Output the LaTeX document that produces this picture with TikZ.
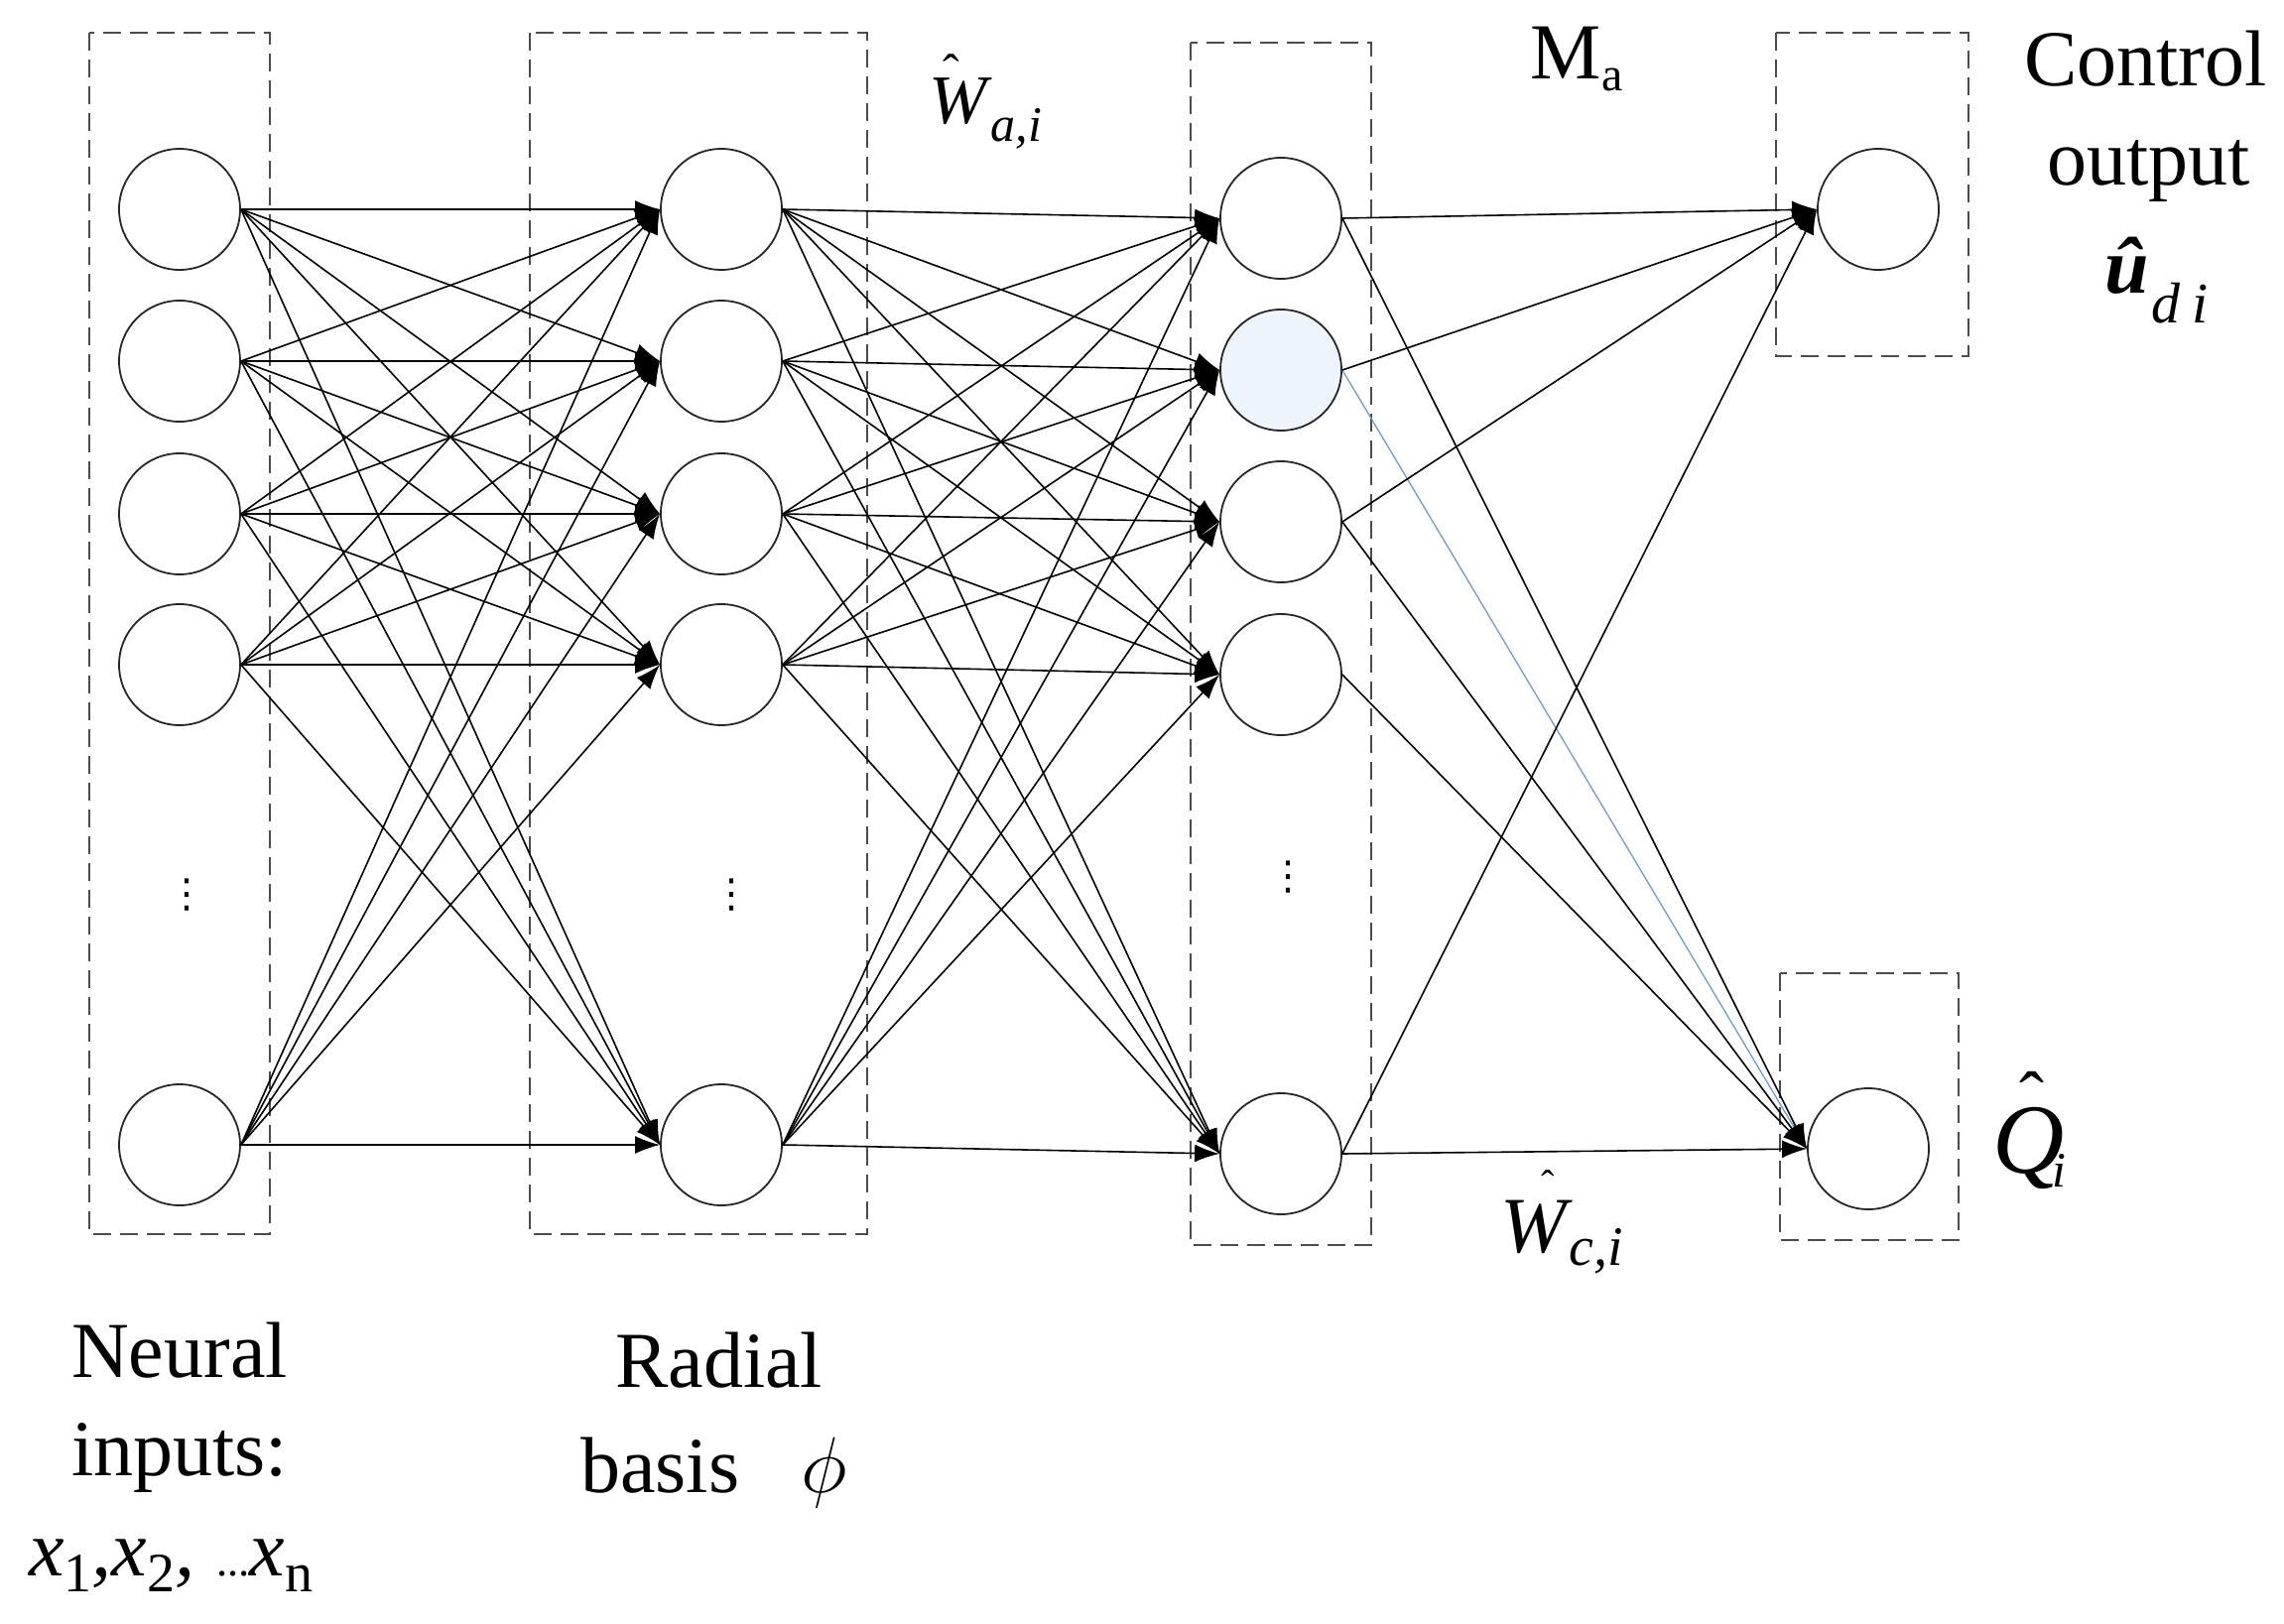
\RequirePackage{fix-cm}
\documentclass[tikz,border=0pt]{standalone}
\usepackage{fontspec}
\setmainfont{Liberation Serif}
\newfontfamily\dotsfont{DejaVu Sans}
\usetikzlibrary{arrows.meta}
\newcommand\mysub[1]{\lower16pt\hbox{\upshape\fontsize{56}{60}\selectfont #1}}
% \hatover{kern}{raise}{size}: put a circumflex over the following glyph
\newcommand\hatover[3]{\rlap{\kern#1\raise#2\hbox{\upshape\fontsize{#3}{#3}\selectfont ˆ}}}
\definecolor{paleblue}{RGB}{238,244,252}
\definecolor{linkblue}{RGB}{110,155,210}
\begin{document}
\begin{tikzpicture}[x=1pt,y=-1pt,
  neuron/.style={circle,draw=black!85,line width=1.8pt,minimum size=122pt,inner sep=0pt,fill=white},
  conn/.style={draw=black,line width=1.6pt,-{Latex[length=25pt,width=18pt]}},
  grp/.style={draw=black!70,line width=2.6pt,dash pattern=on 18pt off 9pt},
  lab/.style={inner sep=0pt,anchor=base west,font=\fontsize{80}{96}\selectfont},
  vdot/.style={inner sep=0pt,font=\dotsfont\fontsize{40}{40}\selectfont}]
\useasboundingbox (0,0) rectangle (2302,1637);
\fill[white] (0,0) rectangle (2302,1637);

% dashed group boxes
\draw[grp] (90,33) rectangle (272,1244);
\draw[grp] (534,33) rectangle (874,1244);
\draw[grp] (1200,43) rectangle (1382,1255);
\draw[grp] (1790,33) rectangle (1984,359);
\draw[grp] (1794,981) rectangle (1974,1250);

% neurons
\foreach \i/\y in {1/211,2/364,3/518,4/670,5/1154} \node[neuron] (a\i) at (181,\y) {};
\foreach \i/\y in {1/211,2/364,3/518,4/670,5/1154} \node[neuron] (b\i) at (727,\y) {};
\foreach \i/\y in {1/220,3/526,4/680,5/1163} \node[neuron] (c\i) at (1291,\y) {};
\node[neuron,fill=paleblue] (c2) at (1291,373) {};
\node[neuron] (o1) at (1893,211) {};
\node[neuron] (o2) at (1883,1158) {};

% vertical ellipses
\node[vdot] (d1) at (188,902) {⋮};
\node[vdot] (d2) at (737,902) {⋮};
\node[vdot] (d3) at (1298,884) {⋮};

% connections
\draw[conn,draw=linkblue,line width=1.3pt] (c2.east) -- (o2.west);
\foreach \i in {1,...,5} \foreach \j in {1,...,5} \draw[conn] (a\i.east) -- (b\j.west);
\foreach \i in {1,...,5} \foreach \j in {1,...,5} \draw[conn] (b\i.east) -- (c\j.west);
\foreach \i in {1,2,3,5} \draw[conn] (c\i.east) -- (o1.west);
\foreach \i in {1,3,4,5} \draw[conn] (c\i.east) -- (o2.west);

% labels
\node[lab] (t1) at (72,1388) {Neural};
\node[lab] (t2) at (72,1487) {inputs:};
\node[lab] (t3) at (29,1588) {\itshape x\mysub{1},x\mysub{2},\kern22pt{\upshape\fontsize{45}{50}\selectfont ...}x\mysub{n}};
\node[lab] (t4) at (620,1398) {Radial};
\node[lab] (t5) at (585,1504) {basis\hspace{62pt}$\phi$};

\node[lab,font=\fontsize{70}{80}\selectfont\itshape] (wa) at (936,125)
  {\hatover{14pt}{35pt}{50}W\kern4pt\lower18pt\hbox{\fontsize{50}{60}\selectfont a,i}};

\node[lab] (ma) at (1542,80) {M\kern1pt\lower12pt\hbox{\fontsize{48}{56}\selectfont a}};

\node[lab] (ctl) at (2040,87) {Control};
\node[lab] (out) at (2063,187) {output};
\node[lab,font=\fontsize{80}{96}\selectfont\bfseries\itshape] (ud) at (2121,296)
  {û\kern3pt\lower29pt\hbox{\mdseries\fontsize{58}{64}\selectfont d\kern12pt i}};

\node[lab,font=\fontsize{100}{110}\selectfont\itshape] (q) at (2008,1182)
  {\hatover{27pt}{50pt}{75}Q\kern-12pt\lower14pt\hbox{\fontsize{50}{60}\selectfont i}};

\node[lab,font=\fontsize{80}{96}\selectfont\itshape] (wc) at (1512,1262)
  {\hatover{41pt}{55pt}{40}W\kern3pt\lower13pt\hbox{\fontsize{56}{64}\selectfont c,i}};
\end{tikzpicture}
\end{document}
